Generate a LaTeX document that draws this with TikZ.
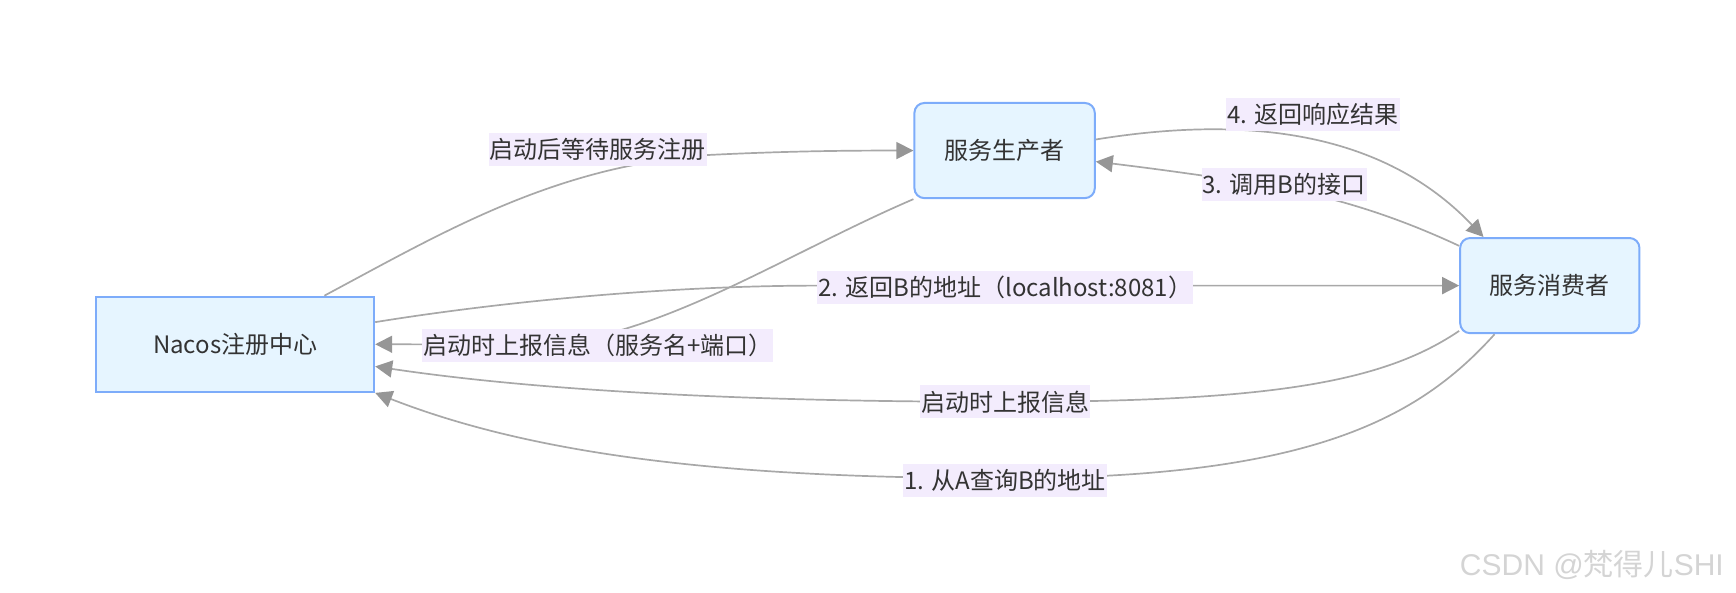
\documentclass[tikz,border=0pt]{standalone}
\usepackage{fontspec}
\setmainfont{Noto Sans CJK SC}
\newfontfamily\wmlatin{Liberation Sans}
\usetikzlibrary{arrows.meta,calc}
\definecolor{nodefill}{RGB}{230,245,255}
\definecolor{nodeline}{RGB}{125,172,250}
\definecolor{edgecol}{RGB}{168,168,168}
\definecolor{arrowfill}{RGB}{150,150,150}
\definecolor{lblfill}{RGB}{243,236,253}
\definecolor{txt}{RGB}{51,51,51}
\definecolor{wmgray}{RGB}{212,212,212}
\begin{document}
\begin{tikzpicture}[x=1.107pt,y=-1.107pt,
  box/.style={draw=nodeline,fill=nodefill,line width=2pt,minimum height=95.2pt,inner sep=0pt,text=txt,font=\fontsize{24}{29}\selectfont},
  rbox/.style={box,rounded corners=10pt},
  lbl/.style={fill=lblfill,text=txt,inner xsep=1pt,inner ysep=0pt,minimum height=33pt,font=\fontsize{24}{29}\selectfont},
  edge/.style={draw=edgecol,line width=1.7pt,-{Triangle[length=17pt,width=17pt,fill=arrowfill,color=arrowfill]}}
]
\useasboundingbox (0,0) rectangle (1568.2,534.8);
\node[box,minimum width=277.9pt] (nacos) at (212.5,311) {Nacos注册中心};
\node[rbox,minimum width=180.4pt] (prod) at (907.5,136) {服务生产者};
\node[rbox,minimum width=179.3pt] (cons) at (1400,258) {服务消费者};

\draw[edge] ($(nacos.north)+(80.5,0)$) .. controls (400,210) and (500,150) .. (640,140) .. controls (720,136) and (780,136) .. (prod.west);
\draw[edge] (prod.south west) .. controls (720,225) and (620,290) .. (520,308) .. controls (450,312) and (380,311) .. (nacos.east);
\draw[edge] ($(nacos.east)+(0,-20)$) .. controls (450,273) and (600,258) .. (740,258) -- (cons.west);
\draw[edge] ($(cons.south west)+(0,-3)$) .. controls (1250,345) and (1150,363) .. (908,363) .. controls (700,363) and (500,355) .. ($(nacos.east)+(0,20)$);
\draw[edge] ($(cons.south west)+(32,0)$) .. controls (1280,380) and (1180,432) .. (908,432) .. controls (650,432) and (480,410) .. (nacos.south east);
\draw[edge] ($(cons.north west)+(0,8)$) .. controls (1260,195) and (1210,180) .. (1160,170) .. controls (1100,160) and (1040,152) .. ($(prod.east)+(0,10)$);
\draw[edge] ($(prod.east)+(0,-10)$) .. controls (1150,100) and (1260,130) .. ($(cons.north west)+(22,0)$);

\node[lbl] (l1) at (540,135) {启动后等待服务注册};
\node[lbl] (l2) at (540,312) {启动时上报信息（服务名+端口）};
\node[lbl] (l3) at (908,260) {2. 返回B的地址（localhost:8081）};
\node[lbl] (l4) at (908,363) {启动时上报信息};
\node[lbl] (l5) at (908,434) {1. 从A查询B的地址};
\node[lbl] (l6) at (1160,167) {3. 调用B的接口};
\node[lbl] (l7) at (1186,103) {4. 返回响应结果};

\node[text=wmgray,font=\fontsize{30}{36}\selectfont,inner sep=0pt] (wm) at (1438,510) {{\wmlatin CSDN @}梵得儿{\wmlatin SHI}};
\end{tikzpicture}
\end{document}
